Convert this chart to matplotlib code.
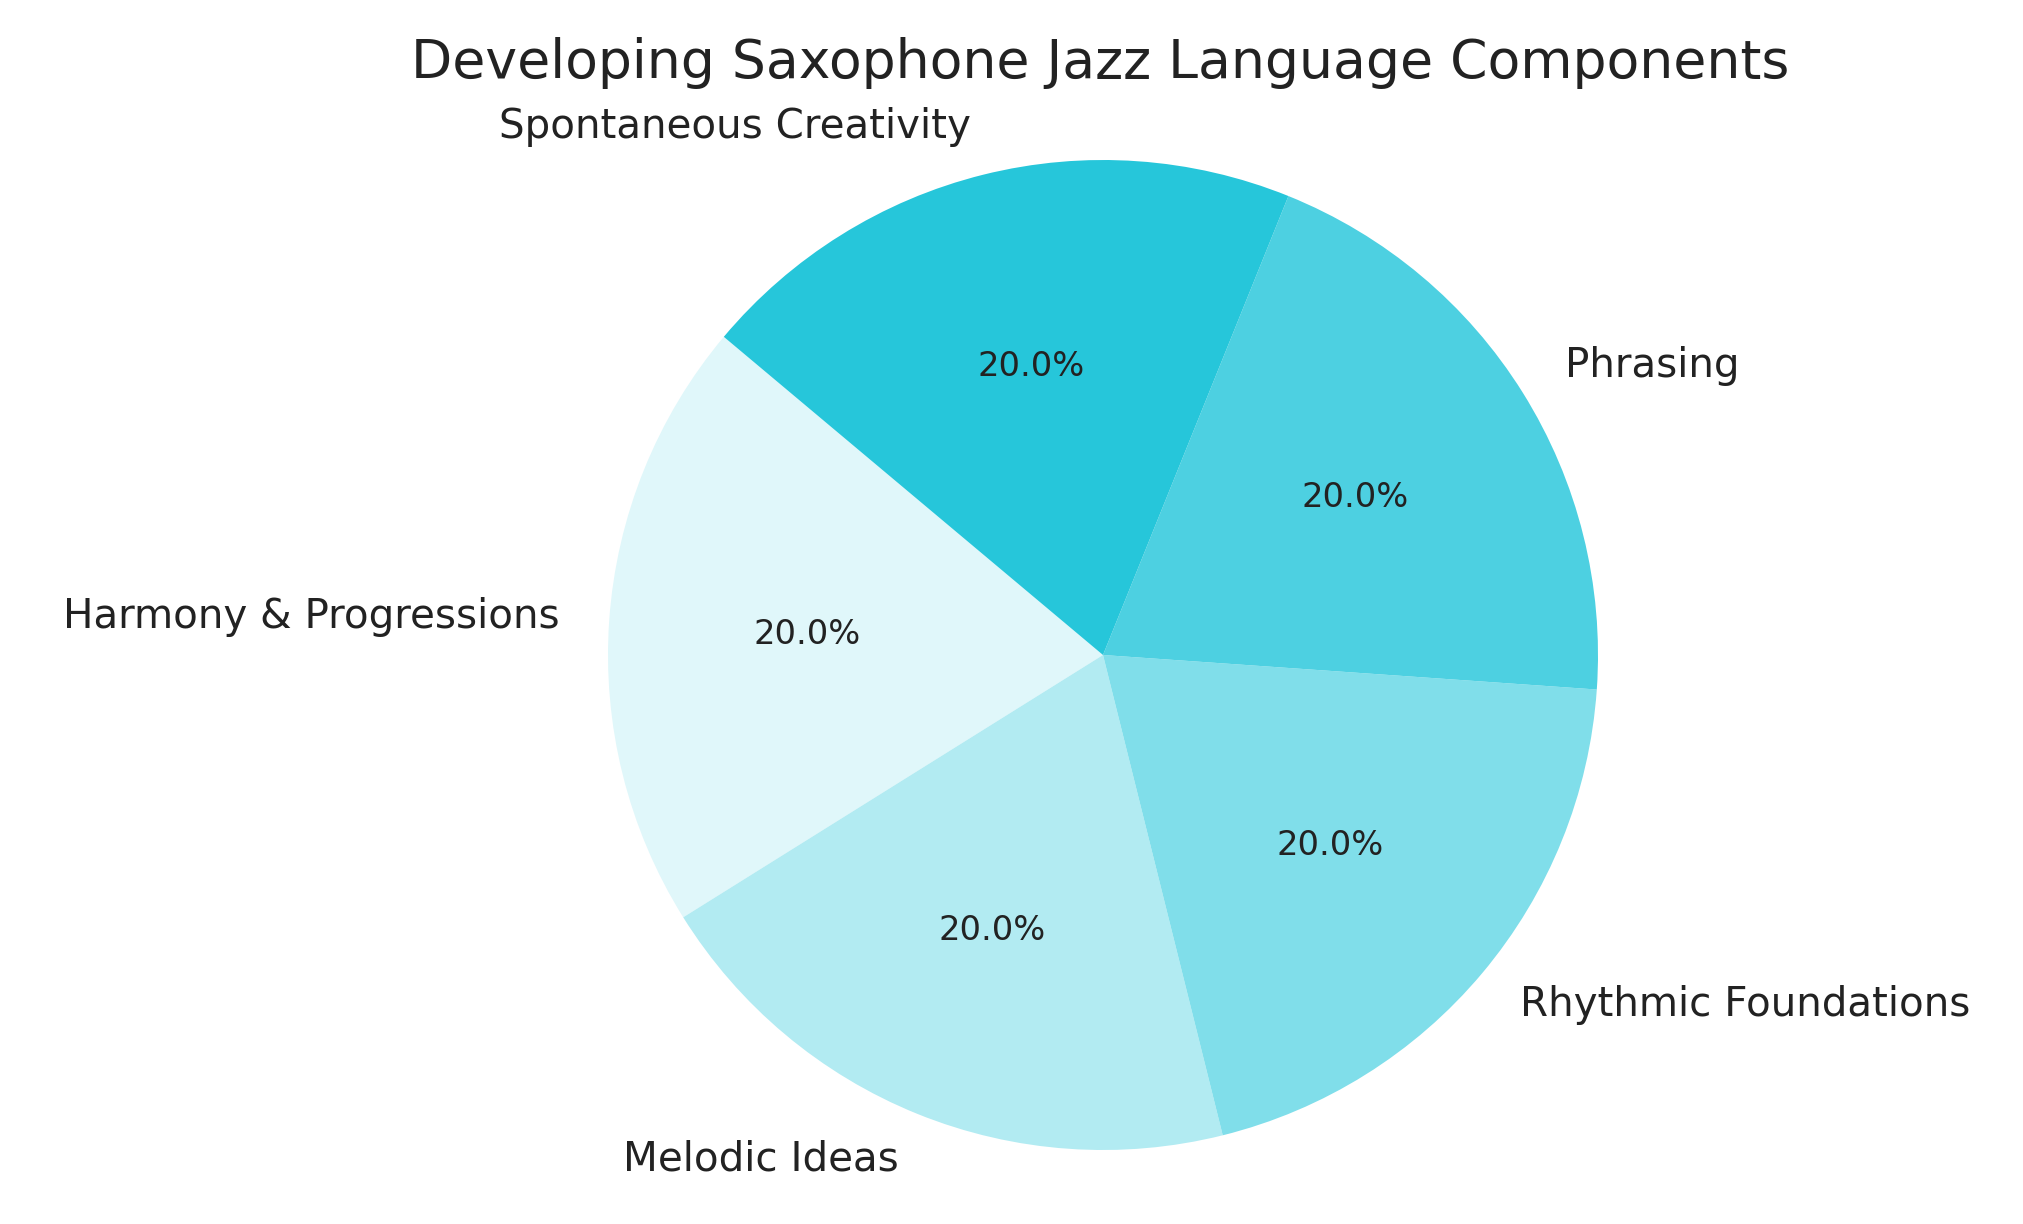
import matplotlib
matplotlib.use("Agg")
import matplotlib.pyplot as plt


TITLE = "Developing Saxophone Jazz Language Components"

COMPONENTS = [
    "Harmony & Progressions",
    "Melodic Ideas",
    "Rhythmic Foundations",
    "Phrasing",
    "Spontaneous Creativity",
]
SHARES = [20, 20, 20, 20, 20]
COLORS = ["#E0F7FA", "#B2EBF2", "#80DEEA", "#4DD0E1", "#26C6DA"]

TEXT_COLOR = "#222222"

# figure layout in pixels (2024 x 1224 at dpi 200)
FIG_W, FIG_H, DPI = 2024, 1224, 200
CENTER_X, CENTER_Y = 1103, 569   # from left / from bottom
RADIUS = 495


def main():
    fig = plt.figure(figsize=(FIG_W / DPI, FIG_H / DPI), dpi=DPI)
    ax = fig.add_axes([0, 0, 1, 1])

    ax.pie(
        SHARES,
        labels=COMPONENTS,
        colors=COLORS,
        autopct="%1.1f%%",
        startangle=140,
        labeldistance=1.1,
        pctdistance=0.6,
        textprops={"color": TEXT_COLOR, "fontsize": 14.55},
        frame=True,
    )
    for t in ax.texts:
        if t.get_text().endswith("%"):
            t.set_fontsize(12.1)

    ax.set_xlim(-CENTER_X / RADIUS, (FIG_W - CENTER_X) / RADIUS)
    ax.set_ylim(-CENTER_Y / RADIUS, (FIG_H - CENTER_Y) / RADIUS)
    ax.set_aspect("auto")
    ax.axis("off")

    fig.text(1100 / FIG_W, 1 - 78 / FIG_H, TITLE, ha="center", va="baseline",
             fontsize=19.3, color=TEXT_COLOR)

    fig.savefig("out.png", dpi=DPI)
    plt.close(fig)


if __name__ == "__main__":
    main()
